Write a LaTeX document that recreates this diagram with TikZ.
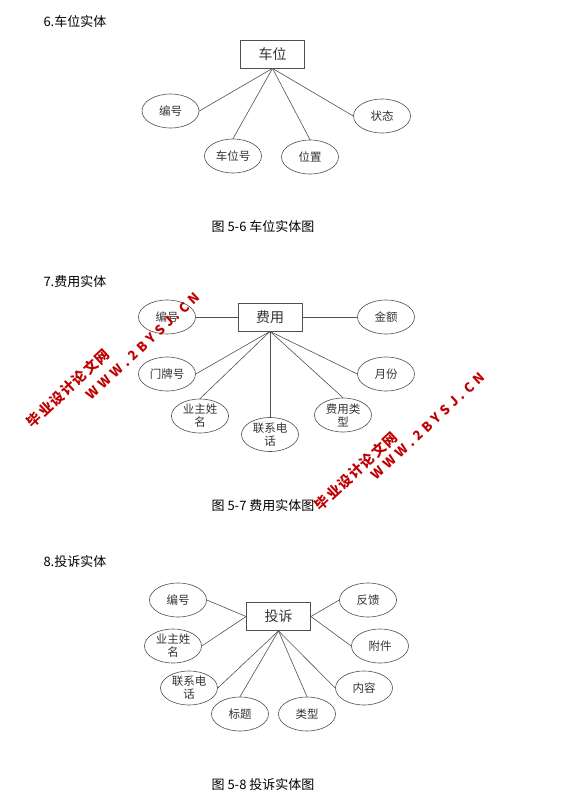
\documentclass[tikz,border=0pt]{standalone}
\usepackage{fontspec}
\setmainfont{Noto Sans CJK SC}
\newfontfamily\wmfont[LetterSpace=10]{Noto Sans CJK SC}
\newfontfamily\wmlatin[LetterSpace=32]{Noto Sans CJK SC}
\usetikzlibrary{shapes.geometric}
\definecolor{edgegray}{HTML}{505050}
\definecolor{textgray}{HTML}{333333}
\definecolor{markred}{HTML}{C00000}

\begin{document}
\begin{tikzpicture}[
  x=1pt, y=-1pt,
  entity/.style={
    rectangle,
    draw=edgegray,
    line width=0.8pt,
    minimum width=64pt,
    minimum height=28pt,
    text=textgray,
    font=\fontsize{14}{16}\selectfont
  },
  attr/.style={
    ellipse,
    draw=edgegray,
    line width=0.6pt,
    minimum width=57pt,
    minimum height=34pt,
    inner sep=0pt,
    align=center,
    text=textgray,
    font=\fontsize{11.5}{13}\selectfont
  },
  heading/.style={anchor=west, font=\fontsize{13}{15}\selectfont},
  caption/.style={font=\fontsize{13}{15}\selectfont},
  link/.style={draw=edgegray, line width=0.6pt},
  watermark/.style={text=markred, rotate=43, font=\wmfont\bfseries\fontsize{14}{16}\selectfont},
  weburl/.style={text=markred, rotate=43, font=\wmlatin\bfseries\fontsize{13}{15}\selectfont}
]
\useasboundingbox (0,0) rectangle (564,805);

% Part 6: parking space
\node[heading] (h6) at (40,22) {6.车位实体};
\node[entity] (space) at (272.5,54) {车位};
\node[attr] (spaceno) at (170.5,111) {编号};
\node[attr] (spacecode) at (233,156) {车位号};
\node[attr] (spacepos) at (310,157) {位置};
\node[attr] (spacestate) at (382,116) {状态};
\node[caption] (c6) at (263,227) {图 5-6 车位实体图};

\draw[link] (space.south) -- (spaceno.east);
\draw[link] (space.south) -- (spacecode.north);
\draw[link] (space.south) -- (spacepos.north);
\draw[link] (space.south) -- (spacestate.west);

% Part 7: fee
\node[heading] (h7) at (40,282) {7.费用实体};
\node[entity] (fee) at (270,317) {费用};
\node[attr] (feeno) at (167,317) {编号};
\node[attr] (feesum) at (386,317) {金额};
\node[attr] (feedoor) at (167,374) {门牌号};
\node[attr] (feemonth) at (386,374) {月份};
\node[attr] (feeowner) at (200,416) {业主姓\\名};
\node[attr] (feephone) at (270,434.5) {联系电\\话};
\node[attr] (feetype) at (343,415) {费用类\\型};
\node[caption] (c7) at (263,506) {图 5-7 费用实体图};

\draw[link] (fee.west) -- (feeno.east);
\draw[link] (fee.east) -- (feesum.west);
\draw[link] (fee.south) -- (feedoor.east);
\draw[link] (fee.south) -- (feeowner.north);
\draw[link] (fee.south) -- (feephone.north);
\draw[link] (fee.south) -- (feetype.north);
\draw[link] (fee.south) -- (feemonth.west);

% Part 8: complaint
\node[heading] (h8) at (40,562) {8.投诉实体};
\node[entity] (cpl) at (278.5,616.5) {投诉};
\node[attr] (cplno) at (178,600) {编号};
\node[attr] (cplowner) at (173,646) {业主姓\\名};
\node[attr] (cplphone) at (189,688) {联系电\\话};
\node[attr] (cpltitle) at (240,714) {标题};
\node[attr] (cpltype) at (307,714) {类型};
\node[attr] (cplbody) at (364,688) {内容};
\node[attr] (cplfile) at (380,646) {附件};
\node[attr] (cplreply) at (368,600) {反馈};
\node[caption] (c8) at (263,785) {图 5-8 投诉实体图};

\draw[link] (cplno.east) -- (cpl.west);
\draw[link] (cplowner.east) -- (cpl.west);
\draw[link] (cplreply.west) -- (cpl.east);
\draw[link] (cplfile.west) -- (cpl.east);
\draw[link] (cpl.south) -- (cplphone.east);
\draw[link] (cpl.south) -- (cpltitle.north);
\draw[link] (cpl.south) -- (cpltype.north);
\draw[link] (cpl.south) -- (cplbody.west);

% watermarks
\node[watermark] (wm1a) at (68,388) {毕业设计论文网};
\node[weburl] (wm1b) at (143,346) {WWW.2BYSJ.CN};
\node[watermark] (wm2a) at (356,471) {毕业设计论文网};
\node[weburl] (wm2b) at (428,426) {WWW.2BYSJ.CN};

\end{tikzpicture}
\end{document}
